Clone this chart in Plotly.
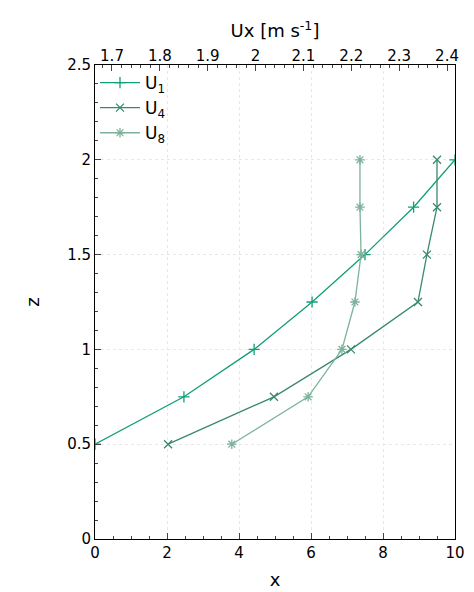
import plotly.graph_objects as go

z = [0.5, 0.75, 1.0, 1.25, 1.5, 1.75, 2.0]
u1 = [0.0, 2.47, 4.42, 6.03, 7.5, 8.85, 10.0]
u4 = [2.03, 4.97, 7.11, 8.97, 9.22, 9.5, 9.5]
u8 = [3.8, 5.92, 6.86, 7.22, 7.39, 7.36, 7.36]

series = [
    ('U<sub>1</sub>', u1, '#119e79', 'cross-thin'),
    ('U<sub>4</sub>', u4, '#3a8a6c', 'x-thin'),
    ('U<sub>8</sub>', u8, '#7db39c', 'asterisk'),
]

fig = go.Figure()
for name, xs, col, sym in series:
    fig.add_trace(go.Scatter(x=xs, y=z, mode='lines+markers', name=name,
                             line=dict(color=col, width=1.3),
                             marker=dict(symbol=sym, size=8, line=dict(color=col, width=1.3))))
# dummy trace to show top axis
fig.add_trace(go.Scatter(x=[2.0], y=[None], xaxis='x2', showlegend=False))

axis = dict(showline=True, linecolor='black', mirror=True, ticks='inside', ticklen=6,
            showgrid=True, gridcolor='#e8e8e8', griddash='dot', zeroline=False,
            automargin=False, tickfont=dict(size=15, color='black'))
fig.update_layout(
    width=474, height=592, plot_bgcolor='white', paper_bgcolor='white',
    font=dict(family='DejaVu Sans', size=15, color='black'),
    margin=dict(l=87, r=27, t=57, b=61, autoexpand=False),
    xaxis=dict(axis, range=[0, 10], dtick=2, minor=dict(ticks='inside', ticklen=3, dtick=0.5),
               title=dict(text='x', standoff=12)),
    yaxis=dict(axis, range=[0, 2.5], dtick=0.5, minor=dict(ticks='inside', ticklen=3, dtick=0.1),
               title=dict(text='z', standoff=22)),
    xaxis2=dict(overlaying='x', side='top', range=[1.6645, 2.4167], dtick=0.1,
                ticks='inside', ticklen=6, showgrid=False, zeroline=False, automargin=False,
                minor=dict(ticks='inside', ticklen=3, dtick=0.02),
                tickfont=dict(size=15, color='black'),
                title=dict(text='Ux [m s<sup>-1</sup>]', standoff=4)),
    legend=dict(x=0.0, y=1.0, xanchor='left', yanchor='top', bgcolor='rgba(0,0,0,0)',
                font=dict(size=17), tracegroupgap=0, itemwidth=40),
)
fig.write_html("out.html")
